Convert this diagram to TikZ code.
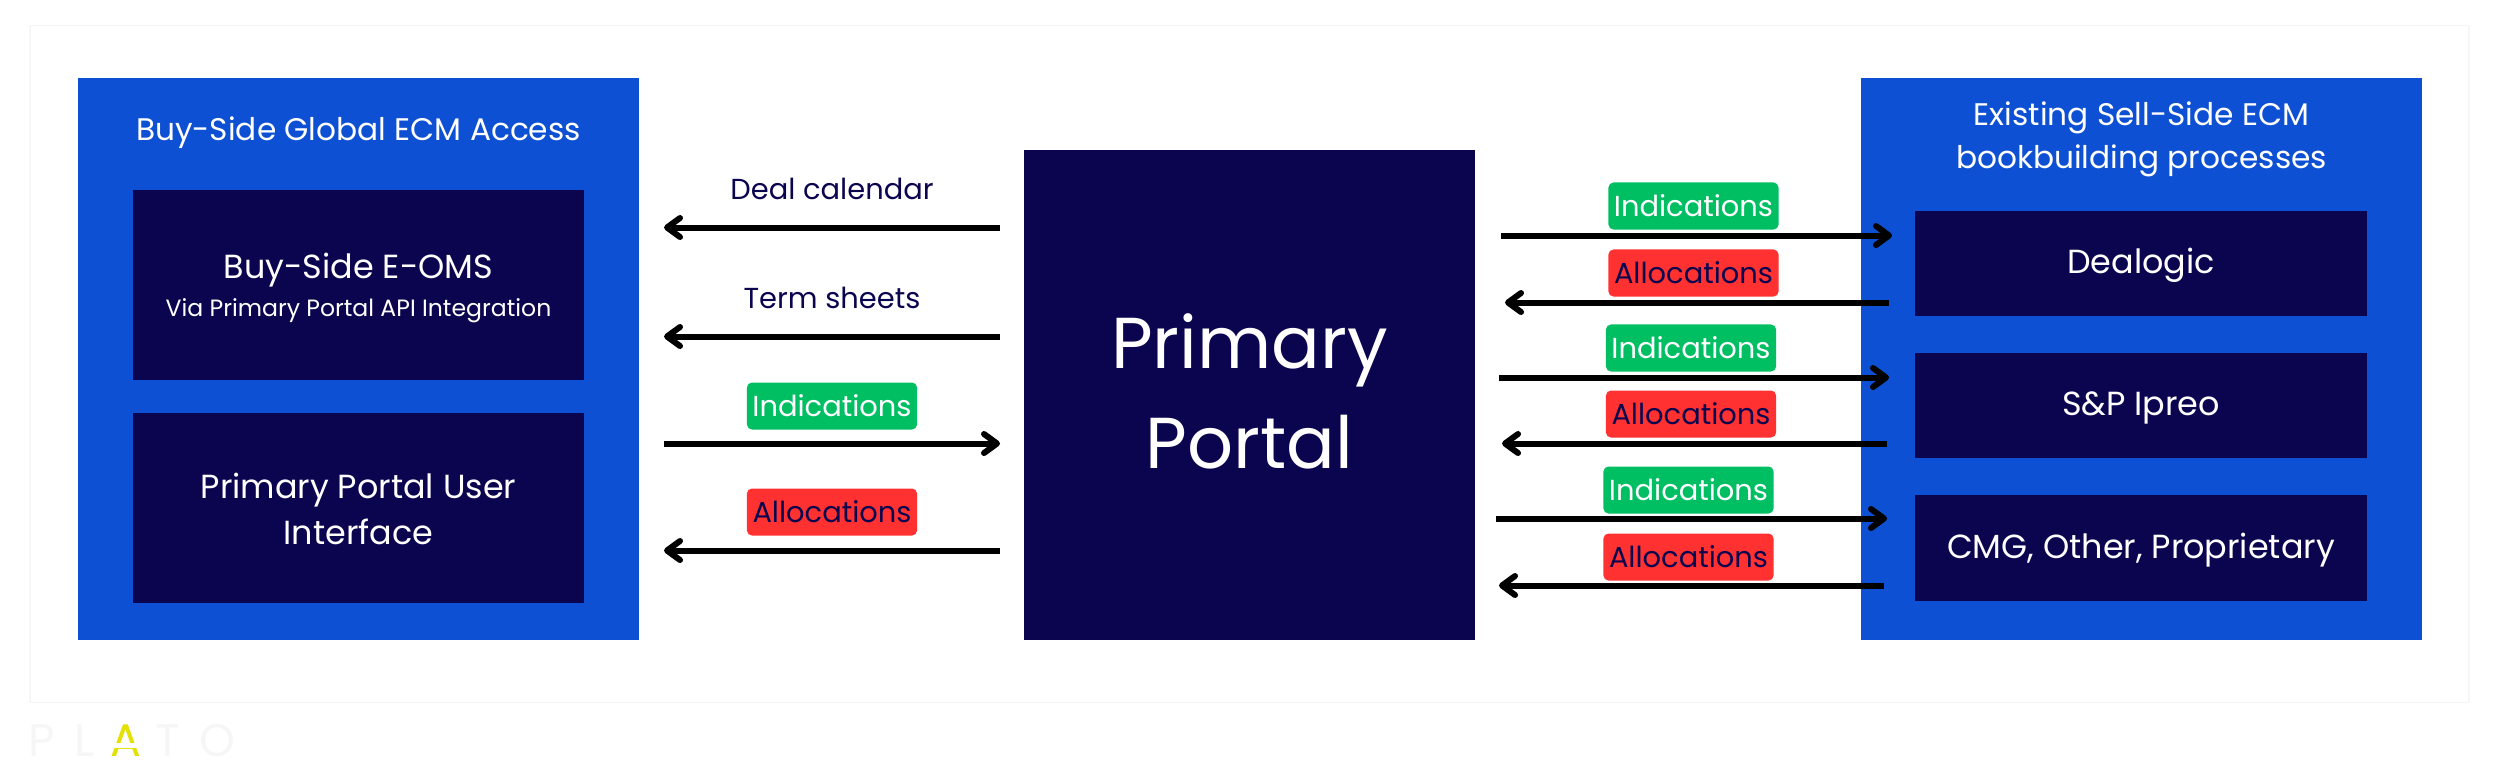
\documentclass[tikz,border=0pt]{standalone}
\usepackage{fontspec}
\setmainfont{Poppins}
\usetikzlibrary{arrows.meta}
\definecolor{panelblue}{HTML}{0E50D3}
\definecolor{navy}{HTML}{0B0550}
\definecolor{indgreen}{HTML}{00BF63}
\definecolor{allocred}{HTML}{FF3131}
\definecolor{framegrey}{HTML}{F6F6F6}
\definecolor{logoyellow}{HTML}{E4E000}
\begin{document}
\begin{tikzpicture}[x=.01cm,y=-.01cm,
    >={Straight Barb[round,length=1.3mm,width=1.9mm]},
    conn/.style={->,line width=.6mm,black},
    panel/.style={fill=panelblue,minimum width=5.61cm,minimum height=5.62cm,inner sep=0},
    inbox/.style={fill=navy,minimum width=4.51cm,inner sep=0},
    boxtxt/.style={text=white,align=center,font=\fontsize{9.5pt}{13.1pt}\selectfont},
    title/.style={text=white,align=center,font=\fontsize{8.87pt}{12.3pt}\selectfont},
    n/.style={font=\fontsize{8.22pt}{13pt}\selectfont,align=center},
    lbl/.style={n,rounded corners=.05cm,minimum width=1.7cm,minimum height=.47cm,inner sep=0},
    ind/.style={lbl,fill=indgreen,text=white},
    alloc/.style={lbl,fill=allocred,text=navy},
    logo/.style={font=\fontsize{13pt}{13pt}\selectfont,text=framegrey,inner sep=0}]
\useasboundingbox (0,-.5) rectangle (2500,780.5);
\draw[framegrey,line width=.015cm] (30,25) rectangle (2469,702);

\node[panel] (buy) at (358.5,358.5) {};
\node[panel] (sell) at (2141.5,358.5) {};
\node[inbox,minimum height=4.9cm] (portal) at (1249.5,394.5) {};
\node[text=white,align=center,font=\fontsize{20.5pt}{28.5pt}\selectfont] (portaltxt) at (1249.5,391) {Primary\\Portal};

\node[title] (buytitle) at (358.5,132) {Buy-Side Global ECM Access};
\node[title] (selltitle) at (2141.5,139) {Existing Sell-Side ECM\\bookbuilding processes};

\node[inbox,minimum height=1.9cm] (eoms) at (358.5,284.5) {};
\node[boxtxt] (eomstxt) at (358.5,287.5)
    {Buy-Side E-OMS\\[-2.4pt]{\fontsize{6.7pt}{9pt}\selectfont Via Primary Portal API Integration}};
\node[inbox,minimum height=1.9cm] (ui) at (358.5,507.5) {};
\node[boxtxt] (uitxt) at (358.5,508) {Primary Portal User\\Interface};
\node[inbox,minimum height=1.05cm] (dealogic) at (2141,263) {};
\node[boxtxt] (dealogictxt) at (2141,265) {Dealogic};
\node[inbox,minimum height=1.05cm] (ipreo) at (2141,405) {};
\node[boxtxt] (ipreotxt) at (2141,407) {S\&P Ipreo};
\node[inbox,minimum height=1.06cm] (cmg) at (2141,547.5) {};
\node[boxtxt] (cmgtxt) at (2141,549.7) {CMG, Other, Proprietary};

% left side
\node[n,text=navy] (deal) at (832,188) {Deal calendar};
\node[n,text=navy] (term) at (832,297) {Term sheets};
\node[ind] (indl) at (832,405.5) {Indications};
\node[alloc] (allocl) at (832,511.5) {Allocations};
\coordinate (a1) at (1000,227); \coordinate (b1) at (664,227);
\coordinate (a2) at (1000,336); \coordinate (b2) at (664,336);
\coordinate (a3) at (664,443); \coordinate (b3) at (1000,443);
\coordinate (a4) at (1000,550); \coordinate (b4) at (664,550);
\draw[conn] (a1) -- (b1);
\draw[conn] (a2) -- (b2);
\draw[conn] (a3) -- (b3);
\draw[conn] (a4) -- (b4);

% right side
\node[ind] (indr1) at (1693.5,205.5) {Indications};
\node[alloc] (allocr1) at (1693.5,272.5) {Allocations};
\node[ind] (indr2) at (1691,347.5) {Indications};
\node[alloc] (allocr2) at (1691,413.5) {Allocations};
\node[ind] (indr3) at (1688.5,489.5) {Indications};
\node[alloc] (allocr3) at (1688.5,556.5) {Allocations};
\coordinate (c1) at (1501,235); \coordinate (d1) at (1892,235);
\coordinate (c2) at (1889,302); \coordinate (d2) at (1505,302);
\coordinate (c3) at (1499,377); \coordinate (d3) at (1889,377);
\coordinate (c4) at (1887,443); \coordinate (d4) at (1502,443);
\coordinate (c5) at (1496,518); \coordinate (d5) at (1887,518);
\coordinate (c6) at (1884,585); \coordinate (d6) at (1499,585);
\draw[conn] (c1) -- (d1);
\draw[conn] (c2) -- (d2);
\draw[conn] (c3) -- (d3);
\draw[conn] (c4) -- (d4);
\draw[conn] (c5) -- (d5);
\draw[conn] (c6) -- (d6);

% logo
\node[logo] (lp) at (42,740.5) {P};
\node[logo] (ll) at (84,740.5) {L};
\node[logo,text=logoyellow] (la) at (125.5,740.5) {A};
\fill[white] (105,742.5) rectangle (146,747);
\node[logo] (lt) at (168,740.5) {T};
\node[logo] (lo) at (217,740.5) {O};
\end{tikzpicture}
\end{document}
